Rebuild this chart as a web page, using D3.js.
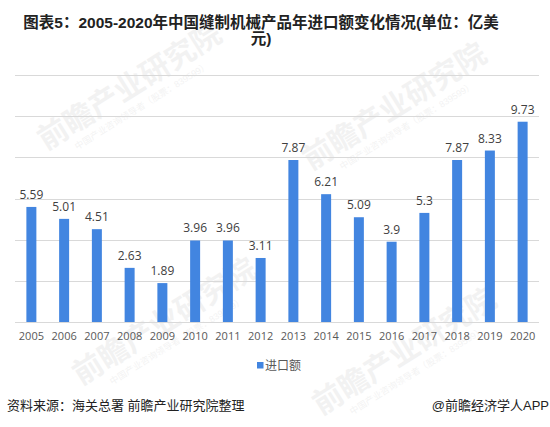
<!DOCTYPE html>
<html>
<head>
<meta charset="utf-8">
<script src="https://cdn.jsdelivr.net/npm/d3@7"></script>
<style>
  body { margin: 0; background: #fff; }
  svg { display: block; }
</style>
</head>
<body>
<div id="chart"></div>
<script>
// 数据
const years = ["2005", "2006", "2007", "2008", "2009", "2010", "2011", "2012",
               "2013", "2014", "2015", "2016", "2017", "2018", "2019", "2020"];
const imports = [5.59, 5.01, 4.51, 2.63, 1.89, 3.96, 3.96, 3.11,
                 7.87, 6.21, 5.09, 3.9, 5.3, 7.87, 8.33, 9.73];
const yTicks = [0, 2, 4, 6, 8, 10, 12];
const seriesName = "进口额";

const width = 550;
const height = 427;
const margin = { top: 75, right: 11, bottom: 105, left: 15 };
const cjk = "'Liberation Sans', Arial, 'Noto Sans CJK SC', sans-serif";
const numFont = "'Open Sans', 'Noto Sans', sans-serif";

const svg = d3.select("#chart").append("svg")
    .attr("width", width)
    .attr("height", height);

// 水印
const marks = [[135, 95], [400, 115], [170, 330], [410, 360]];
marks.forEach(([x, y]) => {
    const g = svg.append("g")
        .attr("transform", `translate(${x},${y}) rotate(-32)`)
        .attr("opacity", 0.07);
    g.append("text")
        .attr("text-anchor", "middle")
        .attr("font-family", cjk)
        .attr("font-weight", "bold")
        .attr("font-size", 30)
        .attr("fill", "#555")
        .text("前瞻产业研究院");
    g.append("text")
        .attr("y", 16)
        .attr("text-anchor", "middle")
        .attr("font-family", cjk)
        .attr("font-size", 9)
        .attr("fill", "#555")
        .text("中国产业咨询领导者（股票：839599）");
});

// 标题
const title = svg.append("text")
    .attr("text-anchor", "middle")
    .attr("font-family", cjk)
    .attr("font-weight", "bold")
    .attr("font-size", 15.5)
    .attr("fill", "#222");
title.append("tspan").attr("x", 261).attr("y", 28)
    .text("图表5：2005-2020年中国缝制机械产品年进口额变化情况(单位：亿美");
title.append("tspan").attr("x", 261).attr("y", 44).text("元)");

const x = d3.scaleBand()
    .domain(years)
    .range([margin.left, width - margin.right])
    .paddingInner(0.695)
    .paddingOuter(0.3475);

const y = d3.scaleLinear()
    .domain([0, 12])
    .range([height - margin.bottom, margin.top]);

// 网格线
svg.append("g")
    .selectAll("line")
    .data(yTicks)
    .enter().append("line")
    .attr("x1", margin.left)
    .attr("x2", width - margin.right)
    .attr("y1", d => Math.round(y(d)) + 0.5)
    .attr("y2", d => Math.round(y(d)) + 0.5)
    .attr("stroke", "#d9d9d9")
    .attr("stroke-width", 1);

// 柱子
svg.append("g")
    .selectAll("rect")
    .data(imports)
    .enter().append("rect")
    .attr("x", (d, i) => x(years[i]))
    .attr("y", d => y(d))
    .attr("width", x.bandwidth())
    .attr("height", d => y(0) - y(d))
    .attr("fill", "#4285e0");

// 数据标签
svg.append("g")
    .selectAll("text")
    .data(imports)
    .enter().append("text")
    .attr("x", (d, i) => x(years[i]) + x.bandwidth() / 2)
    .attr("y", d => y(d) - 8)
    .attr("text-anchor", "middle")
    .attr("font-family", numFont)
    .attr("font-size", 12)
    .attr("fill", "#404040")
    .text(d => d);

// X轴
const xAxis = svg.append("g")
    .attr("transform", `translate(0,${y(0)})`)
    .call(d3.axisBottom(x).tickSize(0).tickPadding(10));
xAxis.select(".domain").remove();
xAxis.selectAll("text")
    .attr("font-family", numFont)
    .attr("font-size", 11)
    .attr("fill", "#595959");

// 图例
svg.append("rect")
    .attr("x", 257)
    .attr("y", 362)
    .attr("width", 6.5)
    .attr("height", 6.5)
    .attr("fill", "#4285e0");
svg.append("text")
    .attr("x", 265)
    .attr("y", 370)
    .attr("font-family", cjk)
    .attr("font-size", 12)
    .attr("fill", "#595959")
    .text(seriesName);

// 底部来源
svg.append("text")
    .attr("x", 7)
    .attr("y", 410)
    .attr("font-family", cjk)
    .attr("font-size", 13)
    .attr("fill", "#222")
    .text("资料来源：海关总署 前瞻产业研究院整理");
svg.append("text")
    .attr("x", 549)
    .attr("y", 410)
    .attr("text-anchor", "end")
    .attr("font-family", cjk)
    .attr("font-size", 13)
    .attr("fill", "#222")
    .text("@前瞻经济学人APP");
</script>
</body>
</html>
